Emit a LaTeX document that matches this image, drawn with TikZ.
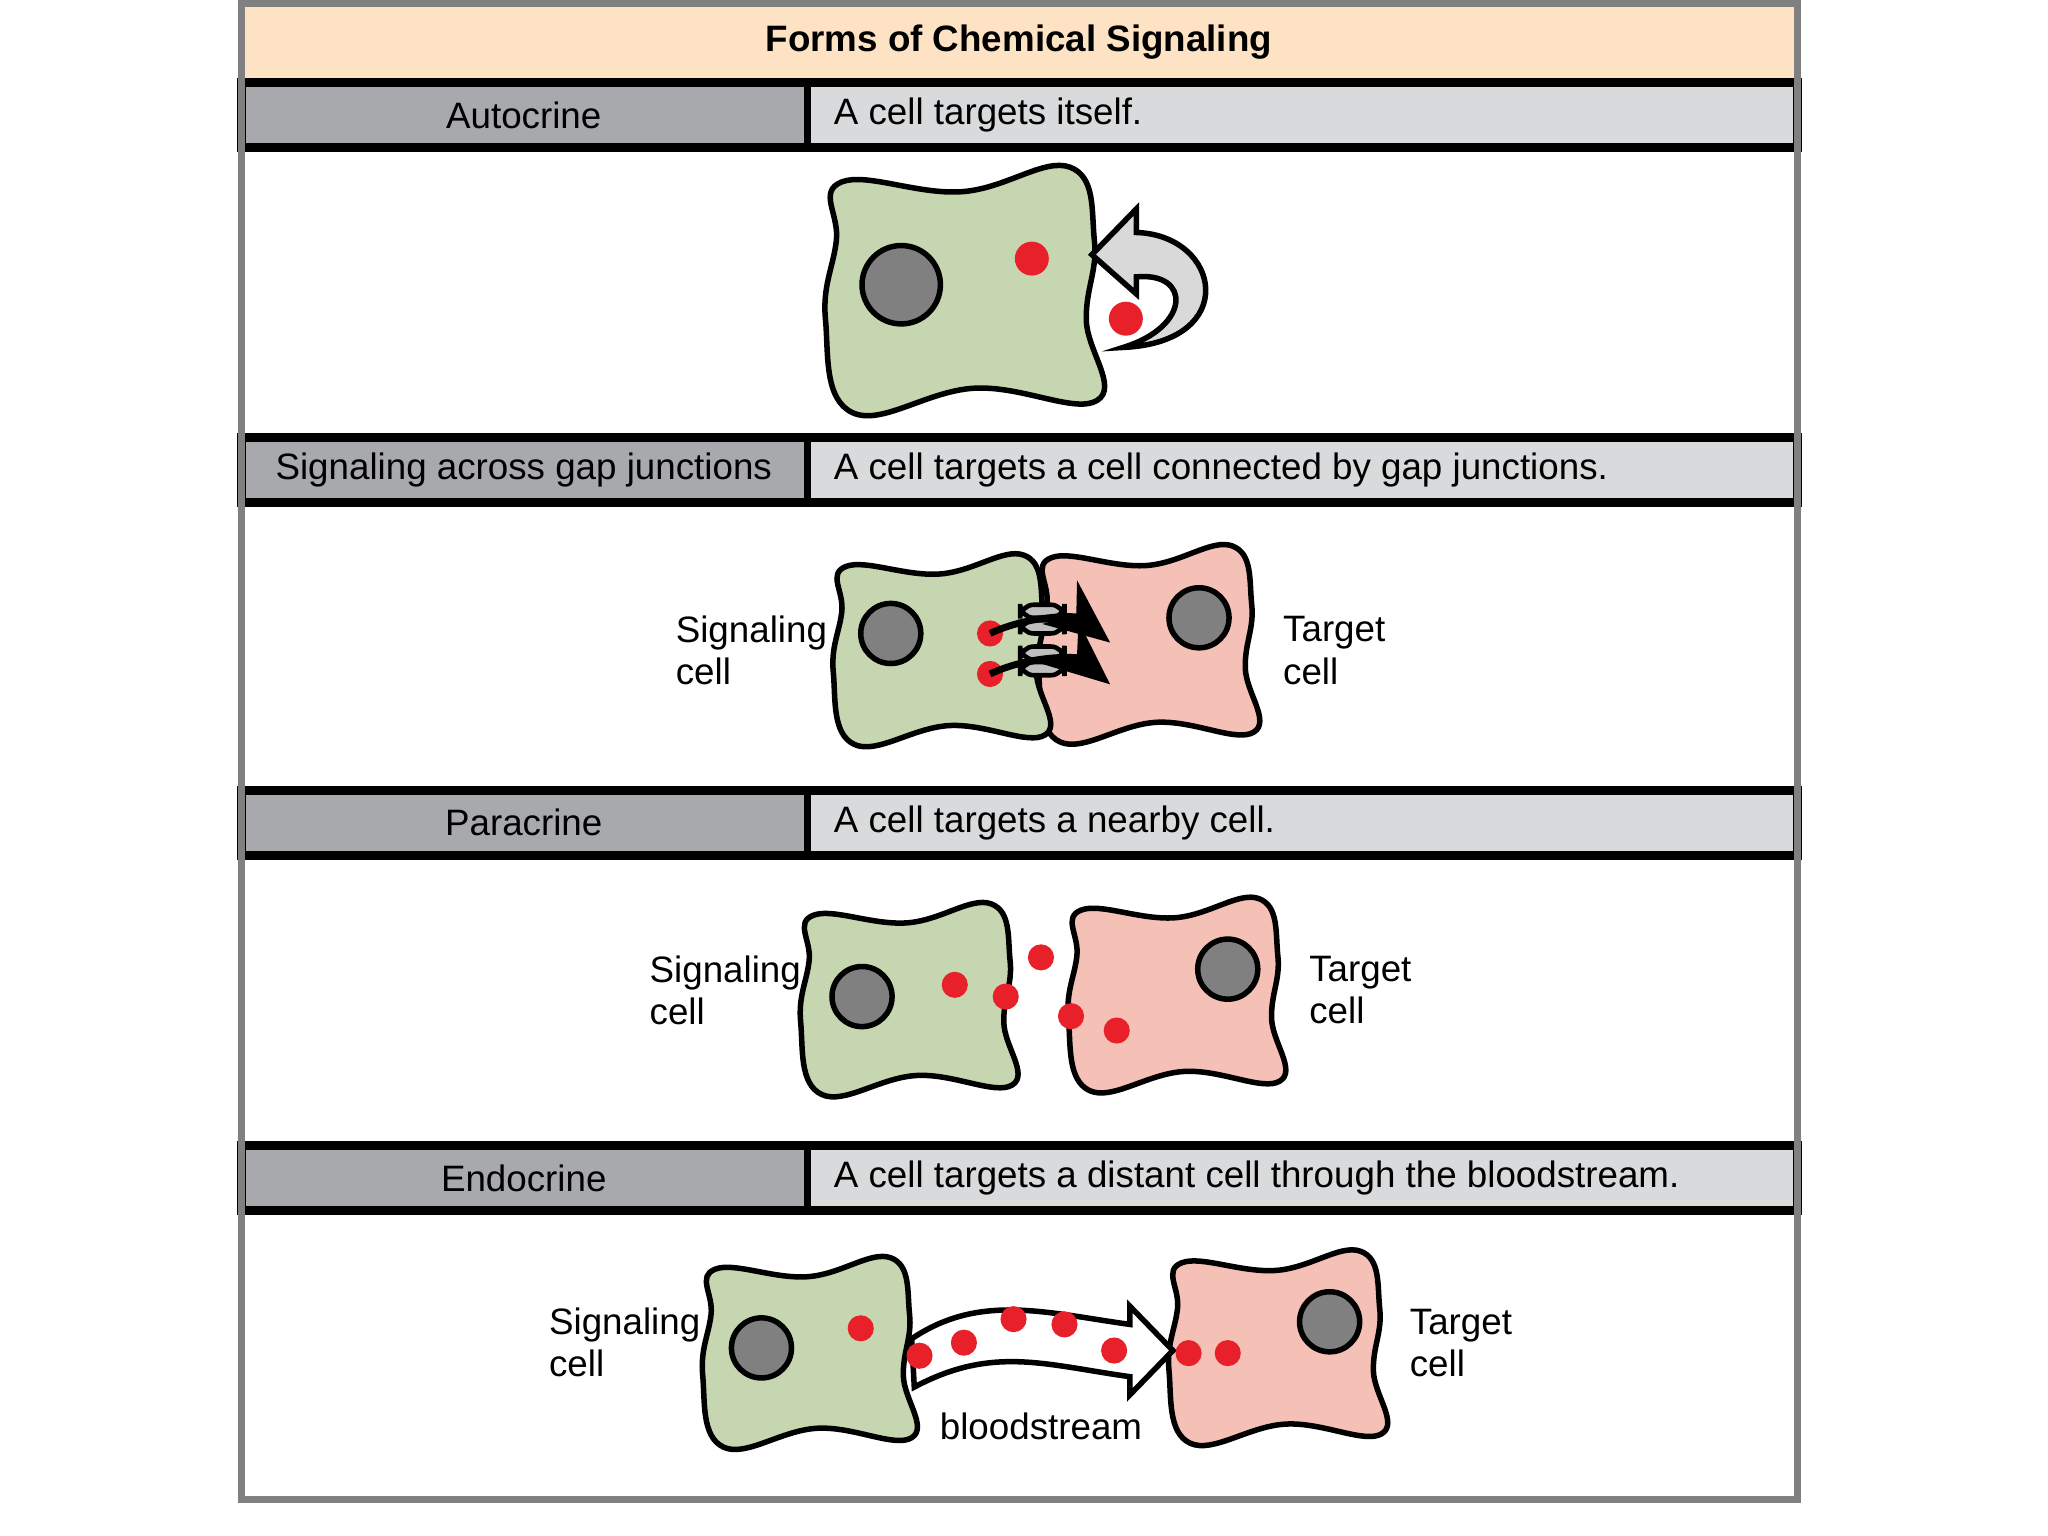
\documentclass[tikz,border=0pt]{standalone}
\usepackage{fontspec}
\setmainfont{Liberation Sans}
\usetikzlibrary{arrows.meta}
\definecolor{peach}{HTML}{FDE3C3}
\definecolor{hdark}{HTML}{A7A9AC}
\definecolor{hlight}{HTML}{D9DADB}
\definecolor{cgreen}{HTML}{C6D6B0}
\definecolor{cpink}{HTML}{F5C1B6}
\definecolor{nuc}{HTML}{808080}
\definecolor{sig}{HTML}{E8202A}
\newcommand{\cellblob}[5]{%
\begin{scope}[shift={(#1,#2)},x=#3*0.01cm,y=-#4*0.01cm]
\draw[fill=#5,line width=1.2pt] plot[smooth cycle,tension=0.7] coordinates
{(0.06,0.06) (0.5,0.1) (0.9,0.0) (0.99,0.3) (0.96,0.62) (1.0,0.95) (0.55,0.9) (0.1,1.0) (0.0,0.62) (0.04,0.3)};
\end{scope}}
\tikzset{
 title/.style={font=\fontsize{8}{10}\selectfont\bfseries},
 head/.style={font=\fontsize{8}{10}\selectfont},
 lab/.style={font=\fontsize{8}{9.2}\selectfont,align=left,anchor=west},
 nucl/.style={fill=nuc,draw=black,line width=1.2pt},
 dot/.style={fill=sig},
 bar/.style={line width=2pt},
}
\begin{document}
\begin{tikzpicture}[x=0.01cm,y=-0.01cm]
\useasboundingbox (0,0) rectangle (1568,1176);
% frame
\fill[peach] (185,3) rectangle (1376,63);
\node[title] (t) at (780,32) {Forms of Chemical Signaling};
\foreach \y/\a/\b in {63/Autocrine/{A cell targets itself.},335/Signaling across gap junctions/{A cell targets a cell connected by gap junctions.},605/Paracrine/{A cell targets a nearby cell.},877/Endocrine/{A cell targets a distant cell through the bloodstream.}}{
 \fill[hdark] (185,\y) rectangle (618,\y+50);
 \fill[hlight] (618,\y) rectangle (1376,\y+50);
 \draw[bar] (185,\y) rectangle (1376,\y+50);
 \draw[line width=1.5pt] (618,\y) -- (618,\y+50);
 \node[head] at (401,\y+25) {\a};
 \node[head,anchor=west] at (626,\y+25) {\b};
}
\draw[gray,line width=1.5pt] (185,3) rectangle (1376,1148);
% autocrine
\cellblob{632}{128}{208}{188}{cgreen}
\draw[nucl] (690,218) circle (30);
\fill[dot] (790,198) circle (13);
\fill[dot] (862,244) circle (13);
\draw[fill=gray!30,line width=1.2pt] (836,195) -- (870,160) -- (870,178) .. controls (935,180) and (950,262) .. (860,266) .. controls (912,250) and (912,208) .. (870,212) -- (870,225) -- cycle;
% gap junction
\cellblob{795}{418}{165}{150}{cpink}
\cellblob{638}{425}{162}{145}{cgreen}
\draw[nucl] (682,485) circle (23);
\draw[nucl] (918,473) circle (23);
\fill[dot] (758,485) circle (10);
\fill[dot] (758,516) circle (10);
\foreach \yy in {468,480,500,512}
 \draw[fill=gray!50,line width=1pt,rounded corners=3] (781,\yy-5) rectangle (815,\yy+5);
\draw[-{Stealth[length=14,width=12]},line width=1.5pt] (758,485) .. controls (790,470) and (825,472) .. (850,492);
\draw[-{Stealth[length=14,width=12]},line width=1.5pt] (758,516) .. controls (790,501) and (825,503) .. (850,524);
\node[lab] (s1) at (505,498) {Signaling\\cell};
\node[lab] (g1) at (970,498) {Target\\cell};
% paracrine
\cellblob{613}{692}{162}{146}{cgreen}
\cellblob{818}{688}{162}{147}{cpink}
\draw[nucl] (660,763) circle (23);
\draw[nucl] (940,742) circle (23);
\foreach \px/\py in {731/754,770/763,797/733,820/778,855/789} \fill[dot] (\px,\py) circle (10);
\node[lab] (s2) at (485,758) {Signaling\\cell};
\node[lab] (g2) at (990,758) {Target\\cell};
% endocrine
\cellblob{538}{963}{160}{145}{cgreen}
\cellblob{895}{958}{163}{147}{cpink}
\draw[nucl] (583,1032) circle (23);
\draw[nucl] (1018,1012) circle (23);
\fill[dot] (659,1017) circle (10);
\draw[fill=white,line width=1.2pt] (698,1025) .. controls (750,990) and (800,1005) .. (865,1014) -- (865,1000) -- (898,1034) -- (865,1068) -- (865,1054) .. controls (800,1045) and (760,1030) .. (700,1062) -- cycle;
\foreach \px/\py in {704/1038,738/1028,776/1010,815/1014,853/1034,910/1036,940/1036} \fill[dot] (\px,\py) circle (10);
\node[head] (b) at (797,1092) {bloodstream};
\node[lab] (s3) at (408,1028) {Signaling\\cell};
\node[lab] (g3) at (1067,1028) {Target\\cell};
\end{tikzpicture}
\end{document}
